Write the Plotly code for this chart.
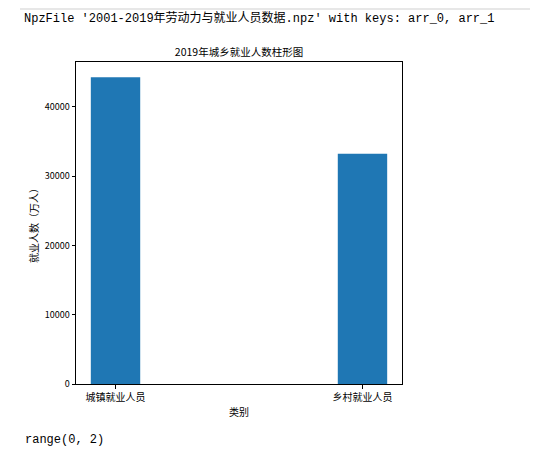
import plotly.graph_objects as go

# --- data ---
categories = ['城镇就业人员', '乡村就业人员']
employed = [44247, 33224]  # 2019, 万人
y_ticks = [0, 10000, 20000, 30000, 40000]

header_text = "NpzFile '2001-2019年劳动力与就业人员数据.npz' with keys: arr_0, arr_1"
footer_text = "range(0, 2)"

# the page body has an 8px margin, so shift everything by that amount
off = 8
W, H = 538 - off, 457 - off
left, right, top, bottom = 76 - off, 402 - off, 62 - off, 384 - off
pw, ph = right - left, bottom - top


def px_x(x):
    # x given in screenshot pixels
    return (x - off - left) / pw


def px_y(y):
    return (bottom - (y - off)) / ph


cjk = "Noto Sans CJK SC, sans-serif"
mono = "Liberation Mono, Noto Sans CJK SC, monospace"

fig = go.Figure()
fig.add_trace(go.Bar(
    x=list(range(len(categories))),
    y=employed,
    width=0.2,
    marker=dict(color='#1f77b4', line=dict(width=0)),
    hovertext=categories,
))

fig.update_layout(
    width=W, height=H,
    margin=dict(l=left, r=W - right, t=top, b=H - bottom, pad=0),
    paper_bgcolor='white', plot_bgcolor='white',
    showlegend=False,
    font=dict(family=cjk, size=10, color='black'),
    title=dict(text='2019年城乡就业人数柱形图', x=(left + right) / 2 / W, xanchor='center',
               y=1 - (52 - off) / H, yanchor='middle', font=dict(size=10.5)),
)

fig.update_xaxes(
    range=[-0.16, 1.16],
    tickvals=list(range(len(categories))), ticktext=categories,
    ticks='outside', ticklen=3.5, tickcolor='black', tickwidth=0.8,
    showline=True, mirror=True, linecolor='black', linewidth=1,
    showgrid=False, zeroline=False,
    title=dict(text='类别', standoff=6, font=dict(size=10)),
    tickfont=dict(size=10),
)
fig.update_yaxes(
    range=[0, max(employed) * 1.05],
    tickvals=y_ticks, ticktext=[str(v) for v in y_ticks],
    ticks='outside', ticklen=3.5, tickcolor='black', tickwidth=0.8,
    showline=True, mirror=True, linecolor='black', linewidth=1,
    showgrid=False, zeroline=False,
    title=dict(text='就业人数（万人）', standoff=4, font=dict(size=10)),
    tickfont=dict(size=9),
)

# notebook text around the figure
fig.add_annotation(text=header_text, xref='paper', yref='paper',
                   x=px_x(22), y=px_y(18), xanchor='left', yanchor='middle',
                   showarrow=False, font=dict(family=mono, size=12))
fig.add_annotation(text=footer_text, xref='paper', yref='paper',
                   x=px_x(23), y=px_y(440), xanchor='left', yanchor='middle',
                   showarrow=False, font=dict(family=mono, size=12))

# cell border at the top
fig.add_shape(type='line', xref='paper', yref='paper',
              x0=px_x(20), x1=px_x(538), y0=px_y(9), y1=px_y(9),
              line=dict(color='#cfcfcf', width=1))

fig.write_html("out.html")
